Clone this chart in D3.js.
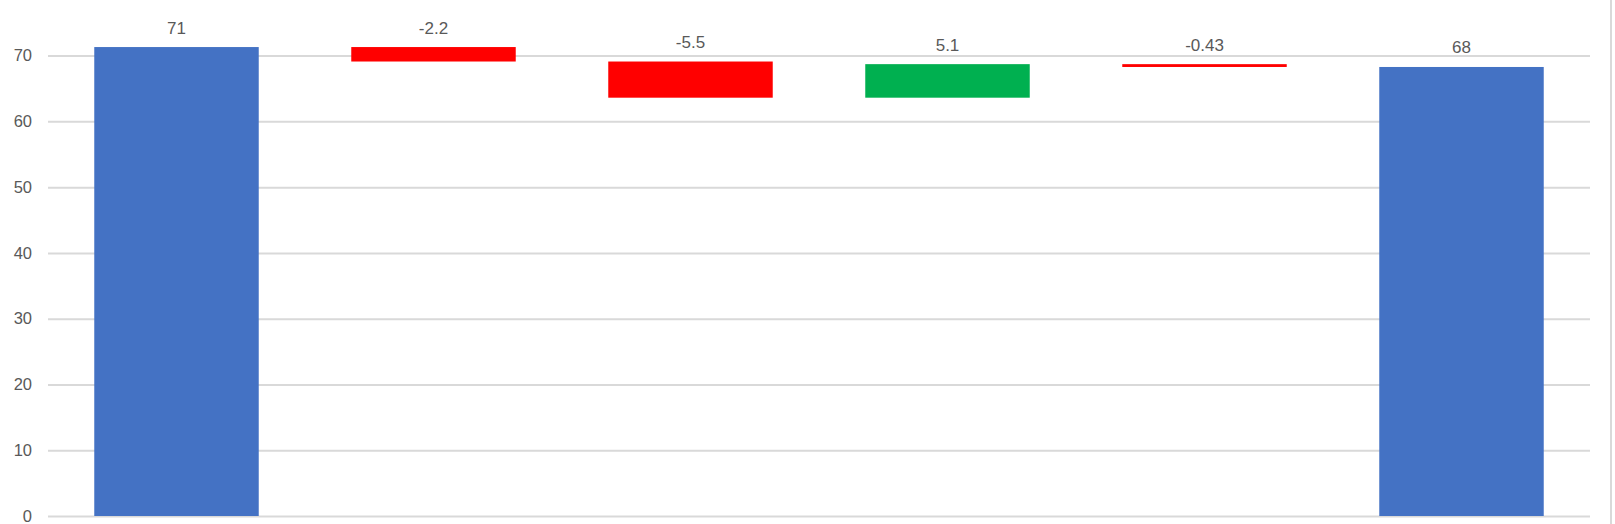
<!DOCTYPE html>
<html>
<head>
<meta charset="utf-8">
<script src="https://cdn.jsdelivr.net/npm/d3@7"></script>
<style>
    body { margin: 0; background: #fff; }
    svg { display: block; font-family: 'Liberation Sans', Arial, sans-serif; }
</style>
</head>
<body>
<div id="chart"></div>
<script>
// waterfall: first and last are totals, the rest are changes
const categories = ['Start', 'Step 1', 'Step 2', 'Step 3', 'Step 4', 'End'];
const values = [71.3, -2.2, -5.5, 5.1, -0.43, 68.27];
const isTotal = [true, false, false, false, false, true];
const valueLabels = ['71', '-2.2', '-5.5', '5.1', '-0.43', '68'];
const yTicks = [0, 10, 20, 30, 40, 50, 60, 70];

const width = 1615;
const height = 524;
const margin = { top: 55.6, right: 25, bottom: 8, left: 48 };

const COLORS = { total: '#4472C4', up: '#00B050', down: '#FF0000' };

// running totals -> start/end of each floating bar
let running = 0;
const data = categories.map((c, i) => {
    let y0, y1, kind;
    if (isTotal[i]) {
        y0 = 0;
        y1 = values[i];
        running = values[i];
        kind = 'total';
    } else {
        y0 = running;
        y1 = running + values[i];
        running = y1;
        kind = values[i] < 0 ? 'down' : 'up';
    }
    return { key: c, y0, y1, kind, label: valueLabels[i] };
});

const svg = d3.select('#chart').append('svg').attr('width', width).attr('height', height);

const x = d3.scaleBand()
    .domain(categories)
    .range([margin.left, width - margin.right])
    .paddingInner(0.36)
    .paddingOuter(0.18);

const y = d3.scaleLinear()
    .domain([0, 70])
    .range([height - margin.bottom, margin.top]);

// gridlines + tick labels
const yAxis = svg.append('g')
    .attr('transform', `translate(${margin.left},0)`)
    .call(d3.axisLeft(y).tickValues(yTicks).tickSize(-(width - margin.left - margin.right)).tickPadding(16));

yAxis.select('.domain').remove();
yAxis.selectAll('.tick line').attr('stroke', '#d9d9d9').attr('stroke-width', 2);
yAxis.selectAll('.tick text')
    .attr('fill', '#595959')
    .style('font-size', '16.5px')
    .style('font-family', "'Liberation Sans', Arial, sans-serif");

// bars
svg.append('g')
    .selectAll('rect')
    .data(data)
    .join('rect')
    .attr('x', (d) => x(d.key))
    .attr('width', x.bandwidth())
    .attr('y', (d) => y(Math.max(d.y0, d.y1)))
    .attr('height', (d) => Math.max(1, Math.abs(y(d.y0) - y(d.y1))))
    .attr('fill', (d) => COLORS[d.kind]);

// value labels above each bar
svg.append('g')
    .selectAll('text')
    .data(data)
    .join('text')
    .attr('x', (d) => x(d.key) + x.bandwidth() / 2)
    .attr('y', (d) => y(Math.max(d.y0, d.y1)) - 13.5)
    .attr('text-anchor', 'middle')
    .attr('fill', '#595959')
    .style('font-size', '17px')
    .text((d) => d.label);

// chart border on the right edge
svg.append('line')
    .attr('x1', 1611).attr('x2', 1611)
    .attr('y1', 0).attr('y2', height)
    .attr('stroke', '#d9d9d9')
    .attr('stroke-width', 2);
</script>
</body>
</html>
